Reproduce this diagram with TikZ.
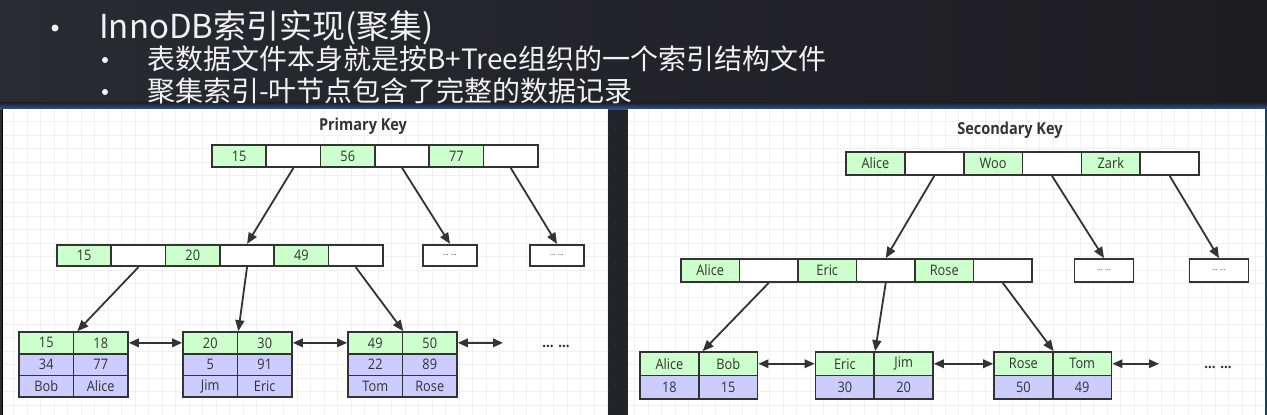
\documentclass[tikz,border=0pt]{standalone}
\usepackage{fontspec}
\setmainfont{Open Sans}[FakeStretch=0.88]
\newfontfamily\cjk{Noto Sans CJK SC}
\usetikzlibrary{arrows.meta}
\definecolor{bgdark}{RGB}{42,42,50}
\definecolor{bgdark2}{RGB}{28,28,33}
\definecolor{kgreen}{HTML}{CCFFCC}
\definecolor{kpurple}{HTML}{CCCCFF}
\definecolor{linec}{HTML}{333333}
\definecolor{gridc}{HTML}{F0F0F0}
\definecolor{bluebar}{RGB}{45,85,145}
\definecolor{headc}{HTML}{F2F2F2}

\newcommand\mkrow[6]{%
  \foreach \t [count=\i] in {#6} {
    \ifodd\i \def\fc{kgreen}\else\def\fc{white}\fi
    \node[cell,fill=\fc,minimum width=#4pt,minimum height=#5pt] (#1\i) at ({#2+#4*(\i-0.5)},#3) {\t};
  }}
\newcommand\mkleaf[6]{%
  \foreach \a/\b [count=\r] in {#6} {
    \ifnum\r=1 \def\fc{kgreen}\else\def\fc{kpurple}\fi
    \node[cell,fill=\fc,minimum width=#4pt,minimum height=#5pt] (#1\r1) at ({#2+#4*0.5},{#3+#5*(\r-0.5)}) {\a};
    \node[cell,fill=\fc,minimum width=#4pt,minimum height=#5pt] (#1\r2) at ({#2+#4*1.5},{#3+#5*(\r-0.5)}) {\b};
  }}

\begin{document}
\begin{tikzpicture}[x=1pt,y=-1pt,
  cell/.style={draw=linec,line width=1.7pt,inner sep=0pt,text=linec,font=\fontsize{14.5}{16}\selectfont},
  dotbox/.style={cell,fill=white,font=\fontsize{8}{9}\selectfont},
  arr/.style={draw=linec,line width=1.8pt,-{Triangle[length=11pt,width=9pt]}},
  darr/.style={draw=linec,line width=1.8pt,{Triangle[length=10pt,width=8.5pt]}-{Triangle[length=10pt,width=8.5pt]}},
  ttl/.style={text=linec,font=\fontsize{16.5}{18}\selectfont\bfseries},
  more/.style={text=linec,font=\fontsize{15}{16}\selectfont\bfseries},
  bul/.style={circle,fill=headc,inner sep=0pt},
  head/.style={text=headc,inner sep=0pt,anchor=west}]
\useasboundingbox (0,0) rectangle (1267,415);
% background
\shade[left color=bgdark, right color=bgdark2] (0,0) rectangle (1267,415);
\shade[top color=bgdark2, bottom color=bluebar] (0,102) rectangle (1267,109);
% panels
\fill[white] (3,109) rectangle (608,415);
\fill[white] (628,109) rectangle (1265,415);
\fill[bluebar!70!black] (1265,109) rectangle (1267,415);
\draw[black,line width=1pt] (2.5,109) -- (2.5,415);
\begin{scope}
  \clip (3,109) rectangle (608,415);
  \draw[gridc,line width=0.7pt,step=13.5pt] (0,108) grid (610,416);
\end{scope}
\begin{scope}
  \clip (628,109) rectangle (1265,415);
  \draw[gridc,line width=0.7pt,step=13.5pt] (620,108) grid (1266,416);
\end{scope}

% heading
\node[bul,minimum size=7pt] (b1) at (55,28) {};
\node[head,font=\cjk\fontsize{33}{36}\selectfont] (h1) at (99,28) {InnoDB索引实现(聚集)};
\node[bul,minimum size=6pt] (b2) at (105,60) {};
\node[head,font=\cjk\fontsize{28}{30}\selectfont] (h2) at (147,59) {表数据文件本身就是按B+Tree组织的一个索引结构文件};
\node[bul,minimum size=6pt] (b3) at (105,92) {};
\node[head,font=\cjk\fontsize{28}{30}\selectfont] (h3) at (147,91) {聚集索引-叶节点包含了完整的数据记录};

% ---------- Primary Key ----------
\node[ttl] (pt) at (363,126) {Primary Key};
\mkrow{pr}{212}{156}{54.3}{22}{15,{},56,{},77,{}}
\mkrow{pl}{57}{255.5}{54.3}{21.5}{15,{},20,{},49,{}}
\node[dotbox,minimum width=54pt,minimum height=21.5pt] (pd1) at (450,255.5) {... ...};
\node[dotbox,minimum width=54pt,minimum height=21.5pt] (pd2) at (557,255.5) {... ...};
\mkleaf{pa}{19}{332}{54.5}{21.7}{15/18,34/77,Bob/Alice}
\mkleaf{pb}{183}{332}{54.5}{21.7}{20/30,5/91,Jim/Eric}
\mkleaf{pc}{348}{332}{54.5}{21.7}{49/50,22/89,Tom/Rose}
\node[more] (pm) at (556,346) {... ...};
\coordinate (pe) at (503,342.85);
\draw[arr] (pr2.south) -- (pl4.north);
\draw[arr] (pr4.south) -- (pd1.north);
\draw[arr] (pr6.south) -- (pd2.north);
\draw[arr] (pl2.south) -- ([xshift=3pt]pa11.north east);
\draw[arr] (pl4.south) -- (pb11.north east);
\draw[arr] (pl6.south) -- (pc11.north east);
\draw[darr] (pa12.east) -- (pb11.west);
\draw[darr] (pb12.east) -- (pc11.west);
\draw[darr] (pc12.east) -- (pe);

% ---------- Secondary Key ----------
\node[ttl] (st) at (1010,130) {Secondary Key};
\mkrow{sr}{846}{163.5}{58.85}{23}{Alice,{},Woo,{},Zark,{}}
\mkrow{sl}{681}{270.5}{58.5}{23}{Alice,{},Eric,{},Rose,{}}
\node[dotbox,minimum width=59pt,minimum height=23pt] (sd1) at (1104,270.5) {... ...};
\node[dotbox,minimum width=59pt,minimum height=23pt] (sd2) at (1219,270.5) {... ...};
\mkleaf{sa}{640}{352}{58.8}{23.5}{Alice/Bob,18/15}
\mkleaf{sb}{815.5}{352}{58.8}{23.5}{Eric/Jim,30/20}
\mkleaf{sc}{994}{352}{58.8}{23.5}{Rose/Tom,50/49}
\node[more] (sm) at (1218,367) {... ...};
\coordinate (se) at (1159,363.75);
\draw[arr] (sr2.south) -- (sl4.north);
\draw[arr] (sr4.south) -- (sd1.north);
\draw[arr] (sr6.south) -- (sd2.north);
\draw[arr] (sl2.south) -- ([xshift=3pt]sa11.north east);
\draw[arr] (sl4.south) -- (sb11.north east);
\draw[arr] (sl6.south) -- (sc11.north east);
\draw[darr] (sa12.east) -- (sb11.west);
\draw[darr] (sb12.east) -- (sc11.west);
\draw[darr] (sc12.east) -- (se);
\end{tikzpicture}
\end{document}
